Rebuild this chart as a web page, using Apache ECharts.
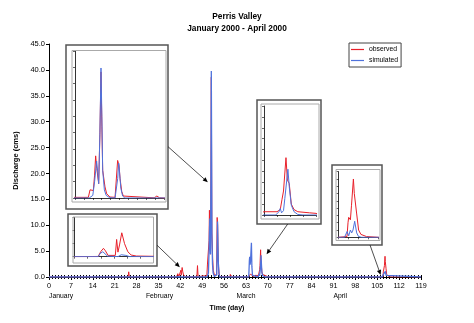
<!DOCTYPE html>
<html><head><meta charset="utf-8">
<script src="https://cdn.jsdelivr.net/npm/echarts@6/dist/echarts.min.js"></script>
<style>html,body{margin:0;padding:0;background:#fff}#c{width:474px;height:323px}</style>
</head><body><div id="c"></div>
<script>
// ---- data (day, discharge cms) ----
const observed = [
[0,0],[25.3,0],[25.5,1.0],[25.7,0],
[39,0],[40.8,0.02],[41.0,0.4],[41.2,0.64],[41.35,0.45],[41.55,0.1],[42.1,0.1],[42.2,1.32],[42.3,0.35],[42.42,0.9],[42.59,1.83],[42.8,1.0],[43.05,0.38],[43.3,0.13],[43.7,0.05],[45,0.03],
[47.3,0],[47.5,2.2],[47.7,0],
[49,0.2],[50.5,0.2],[50.69,2.5],[50.8,2.2],[50.9,2.4],[51.06,2.3],[51.2,7.0],[51.32,12.9],[51.45,9.0],[51.66,4.4],[51.8,19.5],[51.92,38.6],[52.02,22.0],[52.11,8.5],[52.37,3.4],[52.56,1.3],[52.93,0.3],[53.5,0.2],[53.61,0.5],[53.79,11.5],[53.95,10.0],[54.06,6.0],[54.25,2.0],[54.43,0.6],[54.62,0.1],[57.9,0.05],[58.0,0.5],[58.2,0.6],[58.4,0.4],[58.5,0.05],[59,0],
[63.8,0],[64.0,0.3],[64.5,0.6],[65.0,0.3],[65.3,0.05],[66,0.3],[67.0,0.3],[67.25,0.5],[67.38,1.4],[67.5,2.2],[67.69,5.26],[67.8,3.2],[67.94,2.9],[68.1,1.0],[68.31,0.5],[68.6,0.3],[69.5,0.2],[70,0.15],[70.3,0],
[106,0],[106.85,0.05],[106.95,1.0],[107.02,1.37],[107.12,1.25],[107.19,1.2],[107.3,2.2],[107.49,4.0],[107.58,3.0],[107.68,3.1],[107.82,1.6],[108.01,0.5],[108.24,0.2],[108.41,0.15],[108.8,0.05],[110,0],[119,0]
];
const simulated = [
[0,0],[39,0],[40.8,0],[40.95,0.25],[41.15,0.38],[41.3,0.25],[41.5,0.05],[42.3,0],[42.55,0.15],[42.7,0.2],[42.9,0.1],[43.2,0],
[47.4,0],[47.5,0.3],[47.6,0],
[49,0],[50.6,0],[50.8,0.3],[51.0,0.8],[51.2,5],[51.43,11.3],[51.55,8],[51.66,4.4],[51.8,20],[51.92,39.8],[52.02,25],[52.11,8.5],[52.3,2.5],[52.5,0.8],[52.9,0.1],[53.5,0],[53.65,0.4],[53.8,6],[53.91,10.7],[54.0,8],[54.15,3],[54.35,0.6],[54.6,0],
[63.9,0],[64.1,3.2],[64.2,3.9],[64.35,2.4],[64.5,3.5],[64.75,6.6],[64.9,2],[65.1,0.3],[65.3,0],
[66.9,0],[67.15,0.3],[67.25,0.6],[67.35,0.2],[67.5,0.4],[67.6,1.5],[67.84,4.2],[67.95,2.5],[68.1,0.9],[68.31,0.3],[68.6,0.05],[69,0],
[106.6,0],[106.86,0.4],[106.95,0.35],[107.02,0.1],[107.19,0.5],[107.32,0.3],[107.45,0.5],[107.62,1.1],[107.82,0.3],[108.01,0.05],[108.3,0],[119,0]
];
const monthNames = ['January','February','March','April'];
const monthStartDays = [0,31,60,91];
// inset axis ranges [xmin,xmax,xstep,ymax,ystep]
const insetRanges = [[49,59,1,45,5],[39,45,1,3,1],[66,70,1,10,1],[106,110,1,4.5,0.5]];
// arrow targets in main-chart data coords
const arrowTargets = [[50.8,18.3],[41.85,1.9],[69.6,4.4],[106.1,0.4]];

// ---- layout ----
const RED = '#e8202a', BLUE = '#4f72dc';
const FONT = 'Liberation Sans, Arial, sans-serif';
const insetLayout = [
 {box:[66,45,102,164], frame:[72,50.5,94,151.5], grid:[75,51,89,147], from:[1,0.62]},
 {box:[68,214,89,52], frame:[73,217,80.5,46], grid:[74.5,217.5,79,39.2], from:[1,0.6]},
 {box:[257,100,64,124], frame:[261,104,58,115], grid:[264,106,52,109], from:[0.48,1]},
 {box:[332,165,50,80], frame:[336,169.5,44,71], grid:[338.5,171.7,40,65.6], from:[0.76,1]}
];

const chart = echarts.init(document.getElementById('c'), null, {renderer:'canvas'});
const grids = [{left:49, right:53, top:44, bottom:46}];
const xAxes = [
 {type:'value', gridIndex:0, min:0, max:119, interval:7, position:'bottom',
  axisLine:{lineStyle:{color:'#000',width:1}},
  axisTick:{length:3,lineStyle:{color:'#000'}},
  minorTick:{show:true,splitNumber:7,length:2,lineStyle:{color:'#000'}},
  splitLine:{show:false},
  axisLabel:{fontSize:7.2,color:'#000',margin:6,fontFamily:FONT},
  name:'Time (day)', nameLocation:'middle', nameGap:28,
  nameTextStyle:{fontSize:7,fontWeight:'bold',color:'#000',fontFamily:FONT,padding:[0,16,0,0]}},
 {type:'value', gridIndex:0, min:0, max:119, interval:7, position:'bottom',
  axisLine:{show:false}, axisLabel:{show:false}, splitLine:{show:false},
  axisTick:{inside:true,length:2,lineStyle:{color:'#000'}},
  minorTick:{show:true,splitNumber:7,length:2,lineStyle:{color:'#000'}}},
 {type:'value', gridIndex:0, min:0, max:119, position:'bottom',
  axisLine:{show:false}, axisTick:{show:false}, splitLine:{show:false},
  axisLabel:{customValues:monthStartDays, align:'left', fontSize:6.8, color:'#000', margin:16, fontFamily:FONT,
   formatter:v=>monthNames[monthStartDays.indexOf(v)]}}
];
const yAxes = [
 {type:'value', gridIndex:0, min:0, max:45, interval:5,
  axisLine:{show:true,lineStyle:{color:'#000',width:1}},
  axisTick:{show:true,length:3,lineStyle:{color:'#000'}},
  splitLine:{show:false},
  axisLabel:{fontSize:7.5,color:'#000',margin:4,fontFamily:FONT,formatter:v=>v.toFixed(1)},
  name:'Discharge (cms)', nameLocation:'middle', nameGap:20,
  nameTextStyle:{fontSize:7.5,fontWeight:'bold',color:'#000',fontFamily:FONT}}
];
const series = [
 {name:'observed', type:'line', xAxisIndex:0, yAxisIndex:0, data:observed, symbol:'none', lineStyle:{color:RED,width:1}, itemStyle:{color:RED}, z:2},
 {name:'simulated', type:'line', xAxisIndex:0, yAxisIndex:0, data:simulated, symbol:'none', lineStyle:{color:BLUE,width:1.3}, itemStyle:{color:BLUE}, z:3}
];
const graphics = [];
insetLayout.forEach((L,i)=>{
 const r = insetRanges[i];
 const gi = i+1;
 grids.push({left:L.grid[0], top:L.grid[1], width:L.grid[2], height:L.grid[3]});
 const xi = xAxes.length, yi = yAxes.length;
 xAxes.push({type:'value', gridIndex:gi, min:r[0], max:r[1], interval:r[2], position:'bottom',
  axisLine:{lineStyle:{color:'#000',width:0.8}}, axisTick:{length:2,lineStyle:{color:'#000',width:0.6}},
  axisLabel:{show:false}, splitLine:{show:false}});
 yAxes.push({type:'value', gridIndex:gi, min:0, max:r[3], interval:r[4], position:'left',
  axisLine:{show:true,lineStyle:{color:'#000',width:0.8}}, axisTick:{show:true,length:2,lineStyle:{color:'#000',width:0.6}},
  axisLabel:{show:false}, splitLine:{show:false}});
 series.push({name:'observed', type:'line', xAxisIndex:xi, yAxisIndex:yi, data:observed, symbol:'none', clip:true, lineStyle:{color:RED,width:1}, z:2});
 series.push({name:'simulated', type:'line', xAxisIndex:xi, yAxisIndex:yi, data:simulated, symbol:'none', clip:true, lineStyle:{color:BLUE,width:1}, z:3});
 graphics.push({type:'rect', shape:{x:L.box[0],y:L.box[1],width:L.box[2],height:L.box[3]}, style:{fill:'none',stroke:'#555',lineWidth:1.5}, z:1});
 graphics.push({type:'rect', shape:{x:L.frame[0],y:L.frame[1],width:L.frame[2],height:L.frame[3]}, style:{fill:'none',stroke:'#aaa',lineWidth:1}, z:1});
});

chart.setOption({
 animation:false,
 backgroundColor:'#fff',
 title:{text:'Perris Valley\nJanuary 2000 - April 2000', left:'center', top:11, padding:[0,4,0,0],
  textStyle:{fontSize:8.3,fontWeight:'bold',color:'#000',fontFamily:FONT,lineHeight:11.5}},
 legend:{data:[{name:'observed',icon:'rect'},{name:'simulated',icon:'rect'}], orient:'vertical', left:349, top:43,
  itemWidth:13, itemHeight:1.2, itemGap:4, itemTextGap:2, padding:[3,3,3,2],
  borderColor:'#444', borderWidth:1, selectedMode:false,
  textStyle:{fontSize:6.8,color:'#000',fontFamily:FONT}},
 grid:grids, xAxis:xAxes, yAxis:yAxes, series:series
});

// arrows from inset boxes to the events they magnify
insetLayout.forEach((L,i)=>{
 const sx = L.box[0]+L.from[0]*L.box[2], sy = L.box[1]+L.from[1]*L.box[3];
 const t = chart.convertToPixel({gridIndex:0}, arrowTargets[i]);
 const dx = t[0]-sx, dy = t[1]-sy, len = Math.hypot(dx,dy), ux = dx/len, uy = dy/len;
 const hl = 5, hw = 2.2;
 const bx = t[0]-ux*hl, by = t[1]-uy*hl;
 graphics.push({type:'line', shape:{x1:sx,y1:sy,x2:bx,y2:by}, style:{stroke:'#222',lineWidth:0.8}, z:10});
 graphics.push({type:'polygon', shape:{points:[[t[0],t[1]],[bx-uy*hw,by+ux*hw],[bx+uy*hw,by-ux*hw]]}, style:{fill:'#000'}, z:10});
});
chart.setOption({graphic:{elements:graphics}});
</script></body></html>
